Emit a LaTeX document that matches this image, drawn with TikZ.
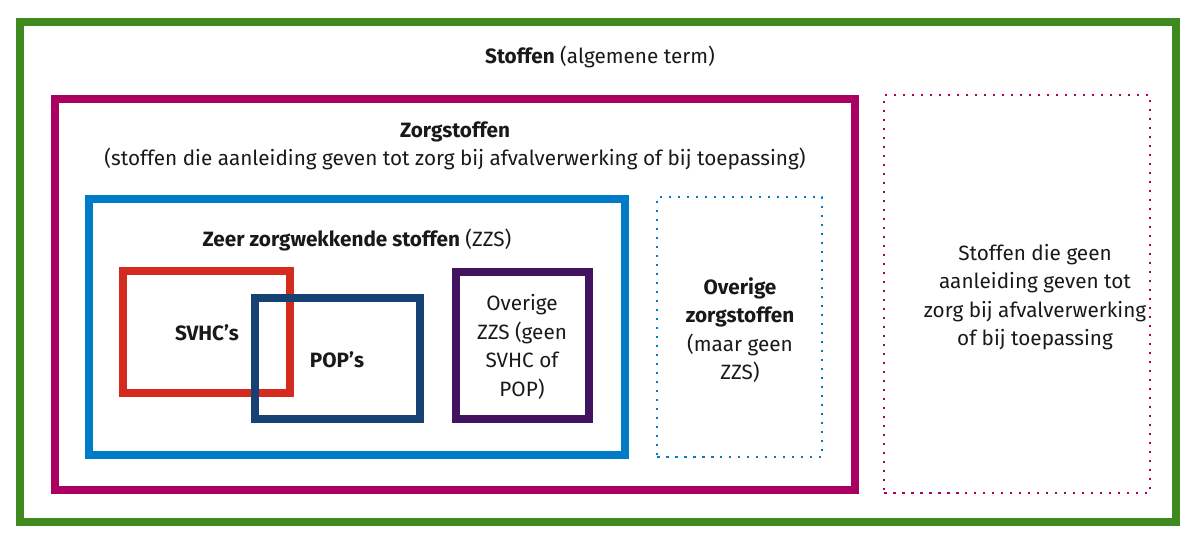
\documentclass[tikz,border=0pt]{standalone}
\usepackage{fontspec}
\setmainfont{Fira Sans}
\usetikzlibrary{positioning,fit}

\definecolor{roGreen}{RGB}{62,138,30}
\definecolor{roMagenta}{RGB}{169,0,97}
\definecolor{roBlue}{RGB}{0,123,199}
\definecolor{roRed}{RGB}{213,43,30}
\definecolor{roDarkBlue}{RGB}{21,66,115}
\definecolor{roPurple}{RGB}{66,20,95}

\begin{document}
\begin{tikzpicture}[
    x=0.02cm, y=-0.02cm,
    setbox/.style={rectangle, inner sep=0pt, line width=0.16cm},
    dotbox/.style={rectangle, inner sep=0pt, line width=0.05cm, dash pattern=on 0.05cm off 0.13cm},
    label/.style={align=center, font=\fontsize{11.8}{16.2}\selectfont, text=black!90}
]
\useasboundingbox (0,0) rectangle (1200,547);

% Outer sets
\node[setbox, draw=roGreen, fit={(20,22) (1176,522)}] (stoffen) {};
\node[setbox, draw=roMagenta, fit={(55,99) (855,490)}] (zorg) {};
\node[dotbox, draw=roMagenta, fit={(884,95) (1150,493)}] (geen) {};

% Zorgstoffen parts
\node[setbox, draw=roBlue, fit={(89,199) (625,455)}] (zzs) {};
\node[dotbox, draw=roBlue, fit={(657,197) (822,457)}] (overigzorg) {};

% ZZS parts
\node[setbox, draw=roRed, fit={(123,271) (290,393)}] (svhc) {};
\node[setbox, draw=roDarkBlue, line width=0.15cm, fit={(255,298) (420,419)}] (pop) {};
\node[setbox, draw=roPurple, line width=0.15cm, fit={(456,272) (589,419)}] (overigzzs) {};

% Labels
\node[label] (stoffenlbl) at (600,57) {\textbf{Stoffen} (algemene term)};
\node[label] (zorglbl) at (455,146) {\textbf{Zorgstoffen}\\(stoffen die aanleiding geven tot zorg bij afvalverwerking of bij toepassing)};
\node[label] (zzslbl) at (357,240) {\textbf{Zeer zorgwekkende stoffen} (ZZS)};
\node[label] (svhclbl) at (207,333) {\textbf{SVHC’s}};
\node[label] (poplbl) at (337,360) {\textbf{POP’s}};
\node[label] (overigzzslbl) at (522,347) {Overige\\ZZS (geen\\SVHC of\\POP)};
\node[label] (overigzorglbl) at (740,330) {\textbf{Overige}\\\textbf{zorgstoffen}\\(maar geen\\ZZS)};
\node[label] (geenlbl) at (1035,297) {Stoffen die geen\\aanleiding geven tot\\zorg bij afvalverwerking\\of bij toepassing};

\end{tikzpicture}
\end{document}
